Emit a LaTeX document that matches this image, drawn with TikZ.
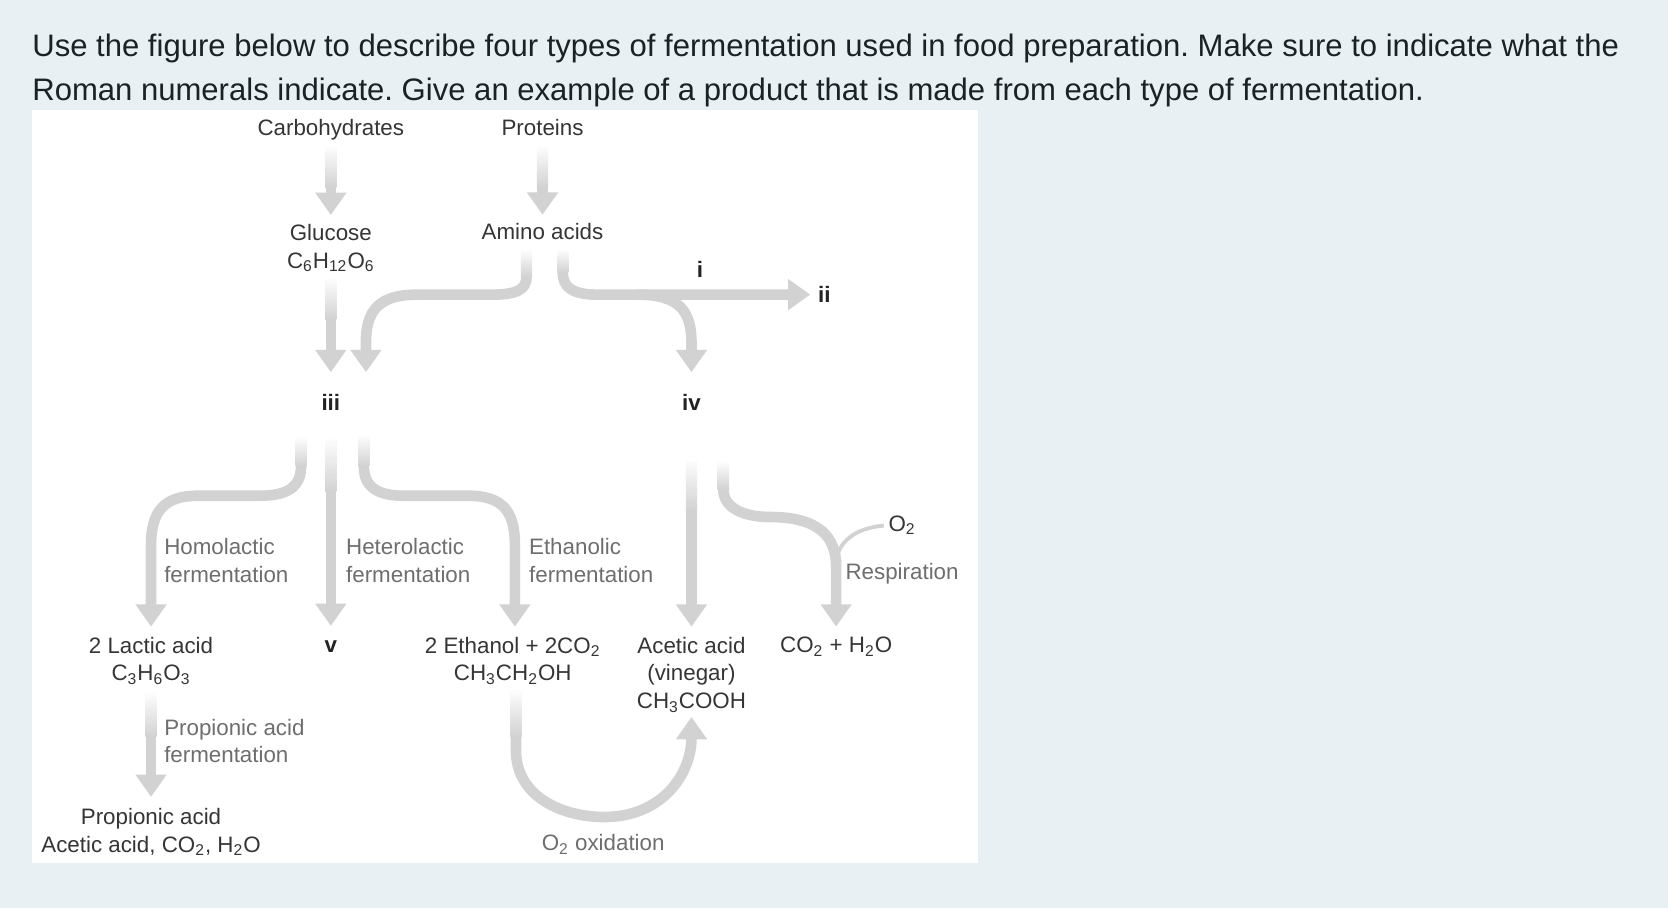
\documentclass[tikz,border=0pt]{standalone}
\usepackage{fontspec}
\setmainfont{Liberation Sans}
\usetikzlibrary{arrows.meta}

\definecolor{pagebg}{HTML}{E8F0F3}
\definecolor{qtext}{HTML}{1B2226}
\definecolor{flowc}{HTML}{D2D2D2}
\definecolor{lblc}{HTML}{6E6E6E}
\definecolor{chemc}{HTML}{353535}
\definecolor{numc}{HTML}{222222}
\newcommand{\ssub}[1]{\textsubscript{#1}}

\tikzset{
  every node/.style={inner sep=0pt, font=\fontsize{10.5}{13}\selectfont},
  lab/.style={text=lblc, align=left},
  chem/.style={text=chemc, align=center},
  num/.style={text=numc, font=\fontsize{10.5}{13}\selectfont\bfseries},
  question/.style={anchor=base west, text=qtext, font=\fontsize{14.6}{20}\selectfont},
  flow/.style={draw=flowc, line width=5pt, -{Triangle[width=14pt,length=10.5pt]}},
  tail/.style={top color=white, bottom color=flowc},
}

\begin{document}
\frenchspacing
\begin{tikzpicture}[x=0.5pt, y=-0.5pt]
		\useasboundingbox (0,0) rectangle (1568,853.6);
		\fill[pagebg] (0,0) rectangle (1568,853.6);
		% question
		\node[question] (q1) at (30,53.4) {Use the figure below to describe four types of fermentation used in food preparation. Make sure to indicate what the};
		\node[question] (q2) at (30,94.3) {Roman numerals indicate. Give an example of a product that is made from each type of fermentation.};
		\fill[white] (30,103.4) rectangle (919.6,811.5);

		% sources
		\node[anchor=base, text=chemc] (carb) at (311,127.5) {Carbohydrates};
		\node[anchor=base, text=chemc] (prot) at (510,127.5) {Proteins};
		\node[anchor=north, chem] (glu) at (311,210.5) {Glucose\\C\ssub{6}H\ssub{12}O\ssub{6}};
		\node[anchor=base, chem] (amino) at (510,225.5) {Amino acids};

		% roman numerals
		\node[anchor=base, num] (ni) at (658,260.5) {i};
		\node[anchor=base, num] (nii) at (775,284.5) {ii};
		\node[anchor=base, num] (niii) at (311,385.5) {iii};
		\node[anchor=base, num] (niv) at (650,385.5) {iv};
		\node[anchor=base, num] (nv) at (311,613.5) {v};

		% pathway labels
		\node[anchor=north west, lab] (homo) at (154,505.5) {Homolactic\\fermentation};
		\node[anchor=north west, lab] (hetero) at (325,505.5) {Heterolactic\\fermentation};
		\node[anchor=north west, lab] (ethan) at (497,505.5) {Ethanolic\\fermentation};
		\node[anchor=base, chem] (otwo) at (848,499.5) {O\ssub{2}};
		\node[anchor=base, lab] (resp) at (848,544.5) {Respiration};
		\node[anchor=north west, lab] (propf) at (154,675.5) {Propionic acid\\fermentation};
		\node[anchor=base, lab] (oxid) at (567,799.5) {O\ssub{2} oxidation};

		% products
		\node[anchor=north, chem] (lact) at (142,598.5) {2 Lactic acid\\C\ssub{3}H\ssub{6}O\ssub{3}};
		\node[anchor=north, chem] (etoh) at (482,598.5) {2 Ethanol + 2CO\ssub{2}\\CH\ssub{3}CH\ssub{2}OH};
		\node[anchor=north, chem] (acet) at (650,598.5) {Acetic acid\\(vinegar)\\CH\ssub{3}COOH};
		\node[anchor=base, chem] (cowat) at (786,613.5) {CO\ssub{2} + H\ssub{2}O};
		\node[anchor=north, chem] (prop) at (142,759.5) {Propionic acid\\Acetic acid, CO\ssub{2}, H\ssub{2}O};

		\coordinate (fork) at (600,277);
		\coordinate (join) at (786,528);

		% arrows, top part
		\draw[flow, shorten <=3pt, shorten >=4.2pt] (carb.south) -- (glu.north);
		\draw[flow, shorten <=5pt, shorten >=4pt] (prot.south) -- (amino.north);
		\draw[flow, shorten <=3pt, shorten >=10pt] (glu.south) -- (niii.north);
		\draw[flow, shorten <=5pt, shorten >=10pt] ([xshift=-7.5pt]amino.south) -- (495,260) .. controls (495,272) and (486,277) .. (462,277) -- (392,277) .. controls (356,277) and (344,292) .. (344,322) -- ([xshift=16.5pt]niii.north);
		\draw[flow, shorten >=10pt] (fork) .. controls (638,277) and (650,292) .. (650,322) -- (niv.north);
		\draw[flow, shorten <=5pt, shorten >=3.5pt] ([xshift=9.5pt]amino.south) -- (529,256) .. controls (529,270) and (538,277) .. (562,277) -- (nii.west);

		% arrows, middle part
		\draw[flow, shorten <=13pt, shorten >=4.7pt] ([xshift=-14pt]niii.south) -- (283,438) .. controls (283,458) and (270,466) .. (244,466) -- (186,466) .. controls (155,466) and (142,480) .. (142,512) -- (lact.north);
		\draw[flow, shorten <=13pt, shorten >=6.8pt] (niii.south) -- (nv.north);
		\draw[flow, shorten <=12pt, shorten >=4.7pt] ([xshift=15.5pt]niii.south) -- (342,438) .. controls (342,458) and (355,466) .. (380,466) -- (440,466) .. controls (472,466) and (484,480) .. (484,512) -- ([xshift=1pt]etoh.north);
		\draw[flow, shorten <=23.25pt, shorten >=4.7pt] (niv.south) -- (acet.north);
		\draw[flow, shorten <=24.75pt, shorten >=4.7pt] ([xshift=15pt]niv.south) -- (680,460) .. controls (680,478) and (700,486) .. (724,486) .. controls (770,486) and (786,505) .. (786,532) -- (cowat.north);
		\draw[draw=flowc, line width=1.8pt, shorten <=2pt] (otwo.west) .. controls (806,496) and (788,508) .. (join);

		% arrows, bottom part
		\draw[flow, shorten <=4pt, shorten >=5.2pt] (lact.south) -- (prop.north);
		\draw[flow, shorten <=2.5pt, shorten >=2pt] ([xshift=1.5pt]etoh.south) -- (485,705) .. controls (485,750) and (530,768) .. (568,768) .. controls (622,768) and (650,728) .. (acet.south);

		% faded tails
		\shade[tail] (305.7,136) rectangle (316.3,176);
		\shade[tail] (504.7,136) rectangle (515.3,176);
		\shade[tail] (305.7,260) rectangle (316.3,300);
		\shade[tail] (489.7,234) rectangle (500.3,260);
		\shade[tail] (523.7,234) rectangle (534.3,256);
		\shade[tail] (277.7,410) rectangle (288.3,438);
		\shade[tail] (305.7,410) rectangle (316.3,462);
		\shade[tail] (336.7,408) rectangle (347.3,438);
		\shade[tail] (644.7,430) rectangle (655.3,480);
		\shade[tail] (674.7,433) rectangle (685.3,460);
		\shade[tail] (136.7,650) rectangle (147.3,692);
		\shade[tail] (479.7,647) rectangle (490.3,692);
	\end{tikzpicture}
\end{document}
